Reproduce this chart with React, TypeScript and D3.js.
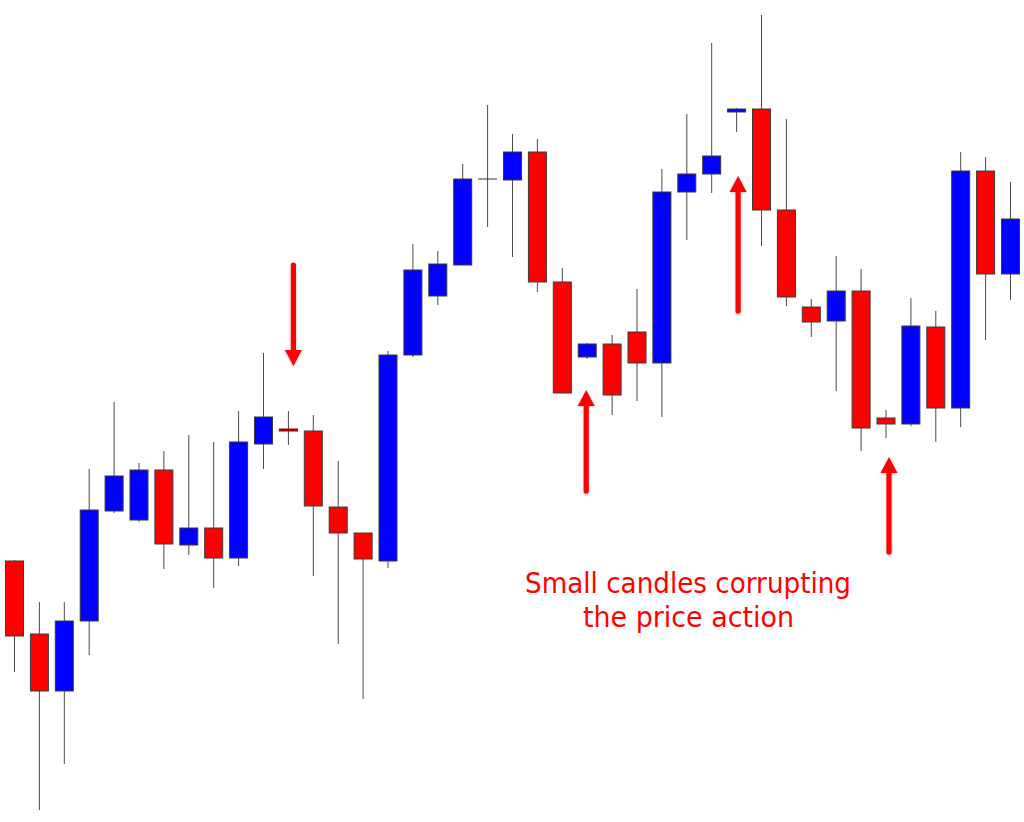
import React, { useEffect } from "react";
import * as d3 from "d3";

// OHLC candle data (price units)
const opens = [126.1, 118.8, 113.1, 120.1, 131.1, 130.2, 135.2, 127.7, 129.4, 126.4, 137.8, 139.3, 139.1, 131.5, 128.9, 126.1, 146.7, 152.6, 155.7, 164.3, 164.2, 167.0, 154.0, 146.5, 147.8, 149.0, 145.9, 163.0, 164.8, 171.0, 171.3, 161.2, 151.5, 150.1, 153.1, 140.4, 139.8, 149.5, 141.4, 165.1, 154.8];
const highs = [126.2, 122.0, 122.0, 135.3, 142.0, 135.9, 137.1, 138.7, 138.0, 141.1, 146.9, 141.1, 140.7, 136.1, 128.9, 147.1, 157.8, 157.1, 165.8, 171.7, 168.8, 168.3, 155.4, 147.9, 148.7, 153.3, 165.3, 170.8, 177.9, 171.4, 180.7, 170.3, 152.3, 156.6, 155.3, 141.2, 152.4, 151.1, 167.0, 166.5, 164.0];
const lows = [115.0, 101.2, 105.8, 116.7, 130.9, 130.0, 125.3, 126.7, 123.4, 125.6, 135.3, 137.7, 124.6, 117.8, 112.3, 125.4, 146.5, 151.7, 155.7, 159.5, 156.5, 153.0, 142.9, 146.3, 140.7, 142.1, 140.5, 158.2, 162.9, 169.0, 157.6, 151.6, 148.5, 143.1, 137.1, 138.4, 139.6, 138.0, 139.5, 148.2, 152.2];
const closes = [118.6, 113.1, 120.1, 131.2, 134.6, 135.2, 127.8, 129.4, 126.4, 138.0, 140.5, 139.1, 131.6, 128.9, 126.3, 146.7, 155.2, 155.8, 164.3, 164.3, 167.0, 154.0, 142.9, 147.8, 142.7, 145.9, 163.0, 164.8, 166.6, 171.3, 161.2, 152.5, 150.0, 153.1, 139.4, 139.8, 149.6, 141.4, 165.1, 154.8, 160.3];

// annotation arrows: candle index, tail price, tip price, x nudge
const arrowIdx = [11, 23, 29, 35];
const arrowTail = [155.7, 133.1, 151.1, 127.0];
const arrowTip = [145.6, 143.2, 164.6, 136.5];
const arrowNudge = [5, -1, 1.5, 3];

const labelLines = ["Small candles corrupting", "the price action"];

const W = 1024;
const H = 822;

export default function App() {
  useEffect(() => {
    document.body.style.margin = "0";
  }, []);

  const idx = d3.range(opens.length);
  const x = d3.scalePoint<number>().domain(idx).range([14.5, 1010.5]);
  const y = d3.scaleLinear().domain([100, 182.2]).range([H, 0]);
  const bodyW = 18;

  const candles = idx.map((i) => {
    const o = opens[i], c = closes[i];
    const up = c > o;
    const doji = o === c;
    const top = y(Math.max(o, c));
    const bot = y(Math.min(o, c));
    const cx = x(i) as number;
    const fill = up ? "#0000ff" : "#ff0000";
    return { i, cx, top, bot, up, doji, fill, hi: y(highs[i]), lo: y(lows[i]) };
  });

  const arrows = arrowIdx.map((ci, k) => {
    const ax = (x(ci) as number) + arrowNudge[k];
    const yt = y(arrowTail[k]);
    const yp = y(arrowTip[k]);
    const dir = yp > yt ? 1 : -1; // 1: pointing down
    const headLen = 16;
    const headW = 8.5;
    const shaftW = 2.6;
    const neck = yp - dir * headLen;
    const path = d3.path();
    path.moveTo(ax - shaftW, yt);
    path.lineTo(ax - shaftW, neck);
    path.lineTo(ax - headW, neck);
    path.lineTo(ax, yp);
    path.lineTo(ax + headW, neck);
    path.lineTo(ax + shaftW, neck);
    path.lineTo(ax + shaftW, yt);
    path.arc(ax, yt, shaftW, 0, Math.PI, dir === 1);
    path.closePath();
    return { d: path.toString(), k };
  });

  return (
    <svg width={W} height={H} style={{ display: "block", background: "#fff" }}>
      <defs>
        <filter id="sh" x="-50%" y="-20%" width="200%" height="140%">
          <feDropShadow dx="0" dy="1" stdDeviation="1" floodColor="#000" floodOpacity="0.25" />
        </filter>
      </defs>
      <g>
        {candles.map((c) => (
          <g key={c.i}>
            <line x1={c.cx} x2={c.cx} y1={c.hi} y2={c.lo} stroke="#4a4a4a" strokeWidth={1} />
            {c.doji ? (
              <line x1={c.cx - bodyW / 2 - 0.5} x2={c.cx + bodyW / 2 + 0.5} y1={c.top} y2={c.top} stroke="#333" strokeWidth={1} />
            ) : c.bot - c.top < 2.5 ? (
              <rect
                x={c.cx - bodyW / 2 - 0.5}
                y={(c.top + c.bot) / 2 - 1.5}
                width={bodyW + 1}
                height={3}
                fill={d3.color(c.fill)!.darker(1.3).toString()}
              />
            ) : (
              <rect
                x={c.cx - bodyW / 2}
                y={c.top}
                width={bodyW}
                height={c.bot - c.top}
                fill={c.fill}
                stroke="#3a3a3a"
                strokeWidth={1}
              />
            )}
          </g>
        ))}
      </g>
      <g filter="url(#sh)">
        {arrows.map((a) => (
          <path key={a.k} d={a.d} fill="#ff0000" />
        ))}
      </g>
      <g fill="#ff0000" fontFamily="'DejaVu Sans', Verdana, sans-serif" fontSize={27.5} textAnchor="middle">
        <text x={688} y={593} textLength={326} lengthAdjust="spacingAndGlyphs">{labelLines[0]}</text>
        <text x={688.5} y={627} textLength={211} lengthAdjust="spacingAndGlyphs">{labelLines[1]}</text>
      </g>
    </svg>
  );
}
